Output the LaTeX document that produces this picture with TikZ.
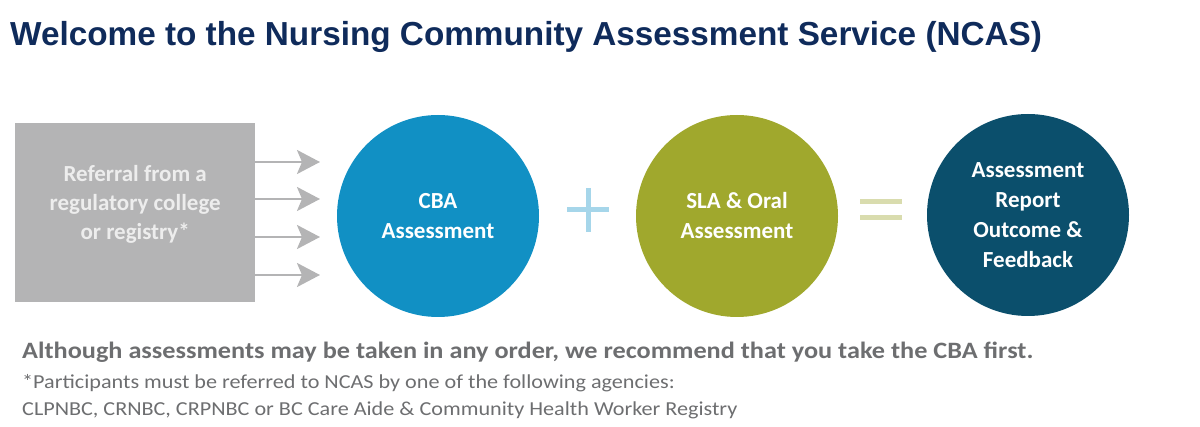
\documentclass[tikz,border=0pt]{standalone}
\usepackage{fontspec}
\setmainfont{Carlito}
\newfontfamily\headfont{Liberation Sans}
\newfontfamily\notefont[FakeStretch=1.12]{Carlito}
\usetikzlibrary{arrows.meta}
\usetikzlibrary{positioning}

\definecolor{ncasnavy}{HTML}{0F2B5B}
\definecolor{refgray}{HTML}{B4B4B5}
\definecolor{cbablue}{HTML}{1190C4}
\definecolor{slaolive}{HTML}{A0A82D}
\definecolor{reportteal}{HTML}{0B4F6C}
\definecolor{pluscol}{HTML}{A6D6EA}
\definecolor{equalcol}{HTML}{D9DCAE}
\definecolor{notegray}{HTML}{6D6E70}

\begin{document}
\begin{tikzpicture}[x=1pt, y=-1pt, referral/.style={rectangle, fill=refgray, minimum width=240pt, minimum height=179pt, anchor=north west, text=white!93!black, align=center, font=\bfseries\fontsize{23}{29}\selectfont}, stage/.style={circle, minimum size=202pt, inner sep=0pt, text=white, align=center, font=\bfseries\fontsize{23}{30}\selectfont}, feed/.style={line width=2.5pt, refgray, -{Stealth[length=23pt, width=24pt, inset=5pt]}}, sign/.style={line width=5pt}, note/.style={anchor=base west, text=notegray, inner sep=0pt}]
\useasboundingbox (0,0) rectangle (1200,427);
\node [anchor=base west, inner sep=0pt, text=ncasnavy, font=\headfont\bfseries\fontsize{33.3}{40}\selectfont] (title) at (10,46) {Welcome to the Nursing Community Assessment Service (NCAS)};
\node [referral] (referral) at (15,123) {Referral from a\\regulatory college\\or registry*\\[-8pt]\mbox{}};
\foreach \y [count=\i] in {162,199,237,275}
  \coordinate (tip\i) at (320,\y);
\foreach \i in {1,...,4}
  \draw [feed] (referral.east |- tip\i) -- (tip\i);
\node [stage, fill=cbablue] (cba) at (438,216) {CBA\\Assessment};
\node [stage, fill=slaolive] (sla) at (737,216) {SLA \& Oral\\Assessment};
\node [stage, fill=reportteal] (report) at (1028,215) {Assessment\\Report\\Outcome \&\\Feedback};
\coordinate (plus) at (588,210);
\coordinate (equals) at (881,210);
\draw [sign, pluscol] ([xshift=-21pt]plus) -- ([xshift=21pt]plus);
\draw [sign, pluscol] ([yshift=22pt]plus) -- ([yshift=-22pt]plus);
\draw [sign, equalcol] ([xshift=-21pt, yshift=8pt]equals) -- ([xshift=21pt, yshift=8pt]equals);
\draw [sign, equalcol] ([xshift=-21pt, yshift=-8pt]equals) -- ([xshift=21pt, yshift=-8pt]equals);
\node [note, font=\notefont\bfseries\fontsize{23.45}{28}\selectfont] (advice) at (22,359) {Although assessments may be taken in any order, we recommend that you take the CBA first.};
\node [note, font=\notefont\fontsize{19.8}{27}\selectfont] (footA) at (22,389) {*Participants must be referred to NCAS by one of the following agencies:};
\node [note, font=\notefont\fontsize{19.8}{27}\selectfont] (footB) at (22,416) {CLPNBC, CRNBC, CRPNBC or BC Care Aide \& Community Health Worker Registry};
\end{tikzpicture}
\end{document}
